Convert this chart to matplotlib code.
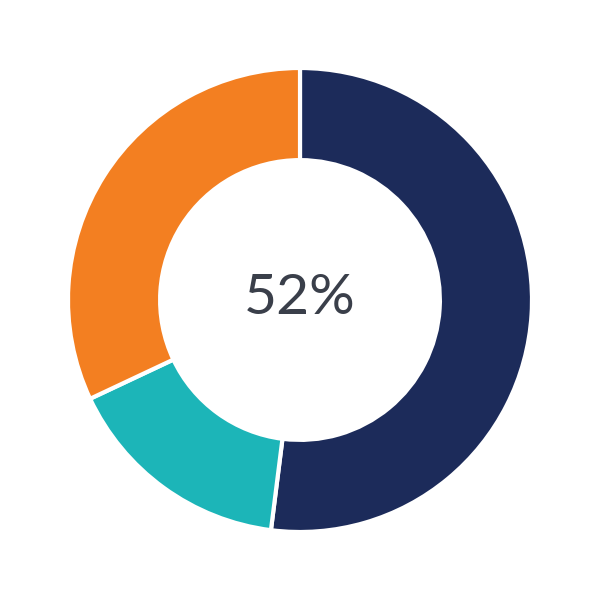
import matplotlib.pyplot as plt

labels = ["A", "B", "C"]
shares = [52, 16, 32]
colors = ["#1c2b5a", "#1cb5b8", "#f37f21"]
center_text = "52%"

fig = plt.figure(figsize=(6, 6), dpi=100)
ax = fig.add_axes([0, 0, 1, 1])

ax.pie(shares, colors=colors, startangle=90, counterclock=False, radius=1.0,
       wedgeprops=dict(width=0.397, edgecolor="white", linewidth=3))

ax.text(0, 0.008, center_text, ha="center", va="center", fontsize=41,
        color="#3a3f4a", family=["Lato", "DejaVu Sans"])

lim = 300 / 232
ax.set_xlim(-lim, lim)
ax.set_ylim(-lim, lim)
ax.set_aspect("equal")
ax.axis("off")

fig.savefig("out.png", dpi=100, facecolor="white")
